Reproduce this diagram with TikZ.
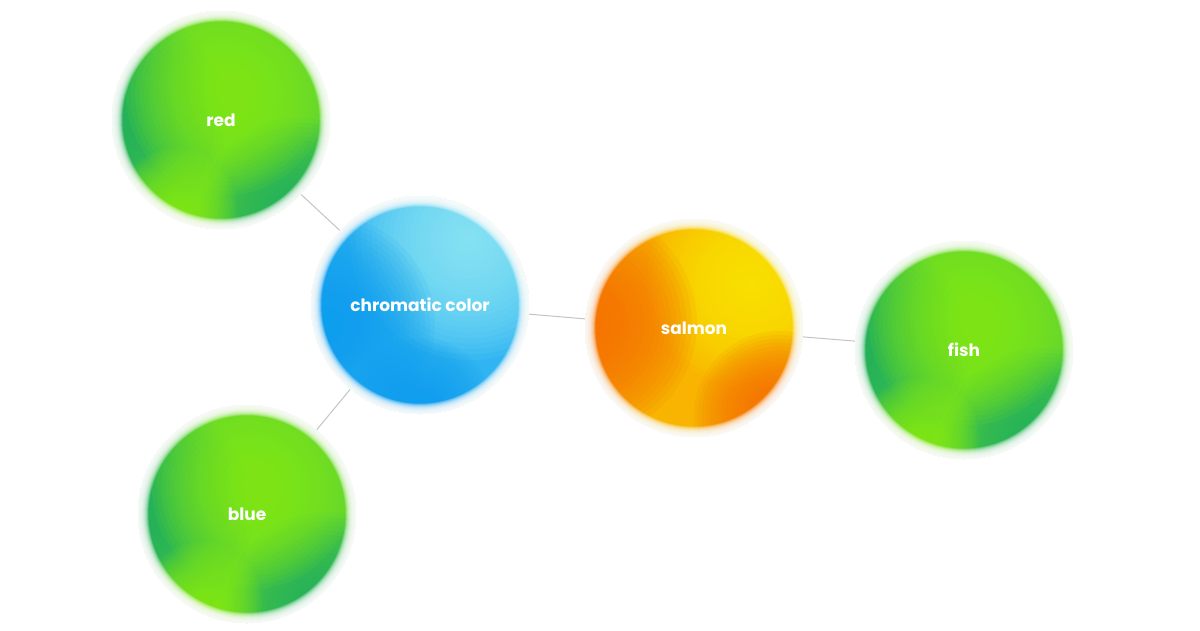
\documentclass[tikz,border=0pt]{standalone}
\usepackage{fontspec}
\setmainfont{Poppins}
\pgfdeclarelayer{bg}
\pgfdeclarelayer{edges}
\pgfdeclarelayer{balls}
\pgfsetlayers{bg,edges,balls,main}
\definecolor{gmid}{HTML}{62D630}
\definecolor{gdark}{HTML}{20B064}
\definecolor{glime}{HTML}{88EE14}
\definecolor{bmid}{HTML}{30B4F2}
\definecolor{bdark}{HTML}{0E9EEE}
\definecolor{blight}{HTML}{95EDF5}
\definecolor{omid}{HTML}{F8B400}
\definecolor{odark}{HTML}{F57000}
\definecolor{olight}{HTML}{FEEB0A}
\definecolor{linkgray}{HTML}{C4C4C4}
\tikzset{
  ball/.style={circle, minimum size=216pt, inner sep=0pt, text=white,
    font=\bfseries\fontsize{17}{20}\selectfont},
  link/.style={draw=linkgray, line width=1pt},
}
% soft blob: colour, dx, dy, radius, layer opacity
\newcommand{\softblob}[5]{%
  \foreach \k [evaluate=\k as \rr using #4*\k/22] in {1,...,22}{%
    \fill[#1, fill opacity=#5] (#2,#3) circle[radius=\rr pt];}}
% ball art: node name, base colour, blobs
\newcommand{\ballart}[3]{%
  \begin{scope}[shift={(#1.center)}]
    \begin{scope}
      \clip (0,0) circle[radius=109pt];
      \fill[#2] (0,0) circle[radius=110pt];
      #3
    \end{scope}
    \foreach \r in {98.5,99,...,108.5}{%
      \fill[white, fill opacity=0.15, even odd rule] (0,0) circle[radius=\r pt] circle[radius=109.5pt];}
  \end{scope}}
\newcommand{\greenart}[1]{%
  \ballart{#1}{gmid}{%
    \softblob{gdark}{-115}{0}{120}{0.1}
    \softblob{gdark}{78}{98}{100}{0.1}
    \softblob{glime}{5}{-25}{100}{0.085}
    \softblob{glime}{-45}{88}{60}{0.085}
  }}
\begin{document}
\begin{tikzpicture}[x=1pt,y=-1pt]
\begin{pgfonlayer}{bg}
\fill[white] (0,0) rectangle (1200,630);
\end{pgfonlayer}
\useasboundingbox (0,0) rectangle (1200,630);
\node[ball] (red) at (221,120) {red};
\node[ball] (chrom) at (420,305) {chromatic color};
\node[ball] (salmon) at (694,328) {salmon};
\node[ball] (fish) at (964,350) {fish};
\node[ball] (blue) at (247,514) {blue};
\begin{pgfonlayer}{edges}
\draw[link] (red.center) -- (chrom.center);
\draw[link] (chrom.center) -- (blue.center);
\draw[link] (chrom.center) -- (salmon.center);
\draw[link] (salmon.center) -- (fish.center);
\end{pgfonlayer}
\begin{pgfonlayer}{balls}
\greenart{red}
\greenart{fish}
\greenart{blue}
\ballart{chrom}{bmid}{%
  \softblob{blight}{50}{-65}{120}{0.09}
  \softblob{bdark}{-95}{20}{110}{0.09}
  \softblob{bdark}{0}{108}{75}{0.085}
}
\ballart{salmon}{omid}{%
  \softblob{olight}{58}{-45}{105}{0.09}
  \softblob{odark}{-112}{-5}{115}{0.1}
  \softblob{odark}{85}{88}{85}{0.1}
}
\end{pgfonlayer}
\end{tikzpicture}
\end{document}
